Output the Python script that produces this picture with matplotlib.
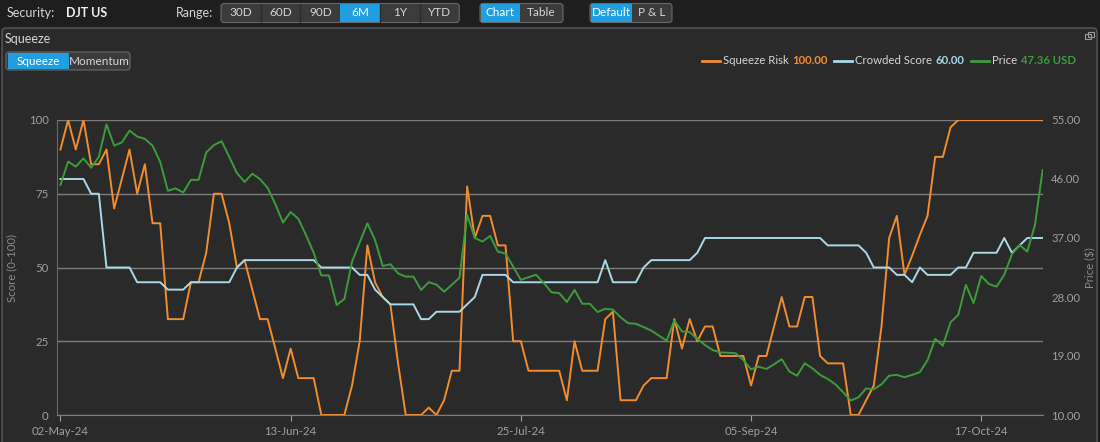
import matplotlib
matplotlib.use("Agg")
import matplotlib.pyplot as plt
from matplotlib.patches import FancyBboxPatch, Rectangle
from matplotlib.lines import Line2D
from matplotlib.transforms import Affine2D
import numpy as np
import pandas as pd

# ---------------- data ----------------
dates = pd.bdate_range("2024-05-02", periods=129)

squeeze_risk = [
    90, 100, 90, 100, 85, 85, 90, 70, 80, 90, 75, 85, 65, 65, 32.5, 32.5, 32.5, 45, 45, 55,
    75, 75, 65, 50, 52.5, 42.5, 32.5, 32.5, 22.5, 12.5, 22.5, 12.5, 12.5, 12.5, 0, 0, 0, 0, 10, 25,
    57.5, 45, 40, 37.5, 17.5, 0, 0, 0, 2.5, 0, 5, 15, 15, 77.5, 60, 67.5, 67.5, 57.5, 57.5, 25,
    25, 15, 15, 15, 15, 15, 5, 25, 15, 15, 15, 32.5, 35, 5, 5, 5, 10, 12.5, 12.5, 12.5,
    32.5, 22.5, 32.5, 25, 30, 30, 20, 20, 20, 20, 10, 20, 20, 30, 40, 30, 30, 40, 40, 20,
    17.5, 17.5, 17.5, 0, 0, 5, 10, 30, 60, 67.5, 47.5, 54, 61, 67.5, 87.5, 87.5, 97.5, 100, 100, 100,
    100, 100, 100, 100, 100, 100, 100, 100, 100,
]

crowded_score = [
    80, 80, 80, 80, 75, 75, 50, 50, 50, 50, 45, 45, 45, 45, 42.5, 42.5, 42.5, 45, 45, 45,
    45, 45, 45, 50, 52.5, 52.5, 52.5, 52.5, 52.5, 52.5, 52.5, 52.5, 52.5, 52.5, 50, 50, 50, 50, 50, 47.5,
    47.5, 42.5, 40, 37.5, 37.5, 37.5, 37.5, 32.5, 32.5, 35, 35, 35, 35, 37.5, 40, 47.5, 47.5, 47.5, 47.5, 45,
    45, 45, 45, 45, 45, 45, 45, 45, 45, 45, 45, 52.5, 45, 45, 45, 45, 50, 52.5, 52.5, 52.5,
    52.5, 52.5, 52.5, 55, 60, 60, 60, 60, 60, 60, 60, 60, 60, 60, 60, 60, 60, 60, 60, 60,
    57.5, 57.5, 57.5, 57.5, 57.5, 55, 50, 50, 50, 47.5, 47.5, 45, 50, 47.5, 47.5, 47.5, 47.5, 50, 50, 55,
    55, 55, 55, 60, 55, 57.5, 60, 60, 60,
]

price = [
    45.10, 48.66, 47.89, 49.15, 47.71, 49.38, 54.33, 51.09, 51.58, 53.38, 52.48, 52.12, 51.09, 48.61,
    44.20, 44.56, 43.93, 45.87, 45.87, 50.05, 51.18, 51.76, 49.38, 46.90, 45.55, 46.81, 46.00, 44.65,
    42.18, 39.34, 40.96, 39.93, 37.45, 34.75, 31.29, 31.29, 26.79, 27.69, 33.40, 36.33, 39.25, 36.69,
    32.73, 33.00, 31.60, 31.11, 31.11, 29.08, 30.25, 29.89, 28.81, 29.85, 30.93, 40.51, 37.00, 36.46,
    37.32, 34.93, 34.62, 32.64, 30.61, 31.02, 31.38, 30.12, 28.72, 28.59, 27.24, 29.08, 26.97, 26.97,
    25.71, 26.20, 26.07, 24.90, 24.00, 23.91, 23.41, 22.87, 22.11, 21.34, 24.40, 22.74, 22.65, 21.61,
    20.67, 19.90, 19.54, 19.50, 19.41, 18.37, 16.98, 17.38, 17.02, 17.74, 18.51, 16.62, 15.99, 17.88,
    17.11, 16.12, 15.49, 14.68, 13.47, 12.21, 12.70, 14.05, 13.92, 14.68, 15.99, 16.12, 15.76, 16.12,
    16.53, 18.37, 21.61, 20.58, 24.13, 25.26, 29.85, 27.06, 31.20, 29.98, 29.58, 31.38, 34.53, 35.92,
    34.93, 38.98, 47.36,
]

score_ticks = [0, 25, 50, 75, 100]
price_ticks = [10, 19, 28, 37, 46, 55]
range_buttons = ["30D", "60D", "90D", "6M", "1Y", "YTD"]
series_names = ["Squeeze Risk", "Crowded Score", "Price"]

# ---------------- style ----------------
BAR_BG = "#1e1e1e"
PANEL_BG = "#2a2a2a"
BORDER = "#5a5a5a"
BTN = "#3b3b3b"
SEL = "#1f9ee0"
TXT = "#d6d6d6"
TICK = "#a0a0a0"
GRID = "#7c7c7c"
ORANGE = "#f28d2f"
BLUE = "#a9d8e8"
GREEN = "#3c9c3c"

plt.rcParams["font.family"] = ["Lato", "DejaVu Sans"]

W, H = 1100, 442
fig = plt.figure(figsize=(W / 100, H / 100), dpi=100, facecolor=BAR_BG)
# pixel coords of the reference, y pointing down
pix = Affine2D().scale(1 / W, -1 / H).translate(0, 1) + fig.transFigure


def box(x, y, w, h, fc, ec=None, r=3, lw=0.8, z=1):
    fig.patches.append(FancyBboxPatch((x, y), w, h, boxstyle=f"round,pad=0,rounding_size={r}",
                                      transform=pix, fc=fc, ec=ec or fc, lw=lw, zorder=z))


def label(x, y, s, **kw):
    kw.setdefault("color", TXT)
    kw.setdefault("fontsize", 8.5)
    kw.setdefault("va", "center")
    return fig.text(x, y, s, transform=pix, **kw)


# panel (behind the axes)
box(2, 28, 1095, 430, PANEL_BG, BORDER, r=4, lw=1.0, z=-5)

# top toolbar
label(7, 13, "Security:", fontsize=9)
label(66, 13, "DJT US", fontsize=9, fontweight="bold", color="#f0f0f0")
label(176, 13, "Range:", fontsize=9)

bx0, bw = 221, 39.7
box(bx0, 3.5, bw * len(range_buttons), 19, BTN, "#6a6a6a")
for k, name in enumerate(range_buttons):
    if name == "6M":
        fig.patches.append(Rectangle((bx0 + k * bw, 4), bw, 18, transform=pix, fc=SEL, ec="none", zorder=1))
    elif k > 0:
        fig.lines.append(Line2D([bx0 + k * bw] * 2, [4, 22], transform=pix, color="#2c2c2c", lw=1))
    label(bx0 + k * bw + bw / 2, 13, name, ha="center", color="#ffffff" if name == "6M" else TXT)

box(480, 3.5, 83, 19, BTN, "#6a6a6a")
fig.patches.append(Rectangle((481, 4), 39, 18, transform=pix, fc=SEL, ec="none", zorder=1))
label(500, 13, "Chart", ha="center", color="#ffffff")
label(541.5, 13, "Table", ha="center")

box(590, 3.5, 82, 19, BTN, "#6a6a6a")
fig.patches.append(Rectangle((591, 4), 41, 18, transform=pix, fc=SEL, ec="none", zorder=1))
label(611, 13, "Default", ha="center", color="#ffffff")
label(652, 13, "P & L", ha="center")

# panel header
label(5, 39, "Squeeze", fontsize=9)
box(6, 52, 124, 18, BTN, "#6a6a6a")
fig.patches.append(Rectangle((7.5, 53), 61.5, 16, transform=pix, fc=SEL, ec="none", zorder=1))
label(38, 61.5, "Squeeze", ha="center", color="#ffffff")
label(99.5, 61.5, "Momentum", ha="center")

# restore icon
fig.patches.append(Rectangle((1085, 34), 6, 5, transform=pix, fc="none", ec="#9a9a9a", lw=0.8))
fig.patches.append(Rectangle((1087.5, 32), 6, 5, transform=pix, fc="none", ec="#9a9a9a", lw=0.8))

# legend, laid out left to right from measured text widths, then shifted so it ends near x=1076
renderer = fig.canvas.get_renderer()
leg = [
    (series_names[0], f"{squeeze_risk[-1]:.2f}", ORANGE),
    (series_names[1], f"{crowded_score[-1]:.2f}", BLUE),
    (series_names[2], f"{price[-1]:.2f} USD", GREEN),
]
leg_artists = []
lx = 0
for name, val, col in leg:
    ln = Line2D([lx, lx + 18], [61, 61], transform=pix, color=col, lw=2)
    fig.lines.append(ln)
    t = label(lx + 21, 61, name, fontsize=8.2)
    leg_artists.append(t)
    lx += 21 + t.get_window_extent(renderer).width + 4
    v = label(lx, 61, val, color=col, fontweight="bold", fontsize=8.2)
    leg_artists.append(v)
    lx += v.get_window_extent(renderer).width
    leg_artists.append(ln)
    lx += 6
shift = 1076 - (lx - 6)
for a in leg_artists:
    if isinstance(a, Line2D):
        a.set_xdata(np.asarray(a.get_xdata()) + shift)
    else:
        px, py = a.get_position()
        a.set_position((px + shift, py))

# ---------------- chart ----------------
ax = fig.add_axes([57 / W, 1 - 415 / H, (1043 - 57) / W, (415 - 120) / H])
ax.set_facecolor("none")
x = np.arange(len(dates))

ax.plot(x, squeeze_risk, color=ORANGE, lw=1.4, zorder=3)
ax.plot(x, crowded_score, color=BLUE, lw=1.4, zorder=3)

ax.set_xlim(-0.45, len(dates) - 0.95)
ax.set_ylim(0, 100)
ax.set_yticks(score_ticks)
ax.grid(axis="y", color=GRID, lw=1.0)
ax.grid(axis="x", visible=False)
ax.set_axisbelow(True)

tick_idx = list(range(0, len(dates), 30))
ax.set_xticks(tick_idx)
ax.set_xticklabels([dates[i].strftime("%d-%b-%y") for i in tick_idx])
ax.tick_params(axis="x", colors=TICK, labelsize=8.2, length=4, width=0.8, pad=4, labelcolor=TICK)
ax.tick_params(axis="y", length=0, labelsize=8.2, labelcolor=TICK, pad=6)

for side in ["top", "right"]:
    ax.spines[side].set_visible(False)
ax.spines["left"].set_color("#6a6a6a")
ax.spines["bottom"].set_color(GRID)
ax.spines["left"].set_linewidth(0.8)

ax.set_ylabel("Score (0-100)", color="#8c8c8c", fontsize=8.2)
ax.yaxis.set_label_coords(-0.04, 0.5)

ax2 = ax.twinx()
ax2.plot(x, price, color=GREEN, lw=1.4)
ax2.set_ylim(price_ticks[0], price_ticks[-1])
ax2.set_yticks(price_ticks)
ax2.set_yticklabels([f"{p:.2f}" for p in price_ticks])
ax2.tick_params(axis="y", length=0, labelsize=8.2, labelcolor=TICK, pad=6)
for side in ["top", "right", "left", "bottom"]:
    ax2.spines[side].set_visible(False)
ax2.set_ylabel("Price ($)", color="#8c8c8c", fontsize=8.2, rotation=90)
ax2.yaxis.set_label_coords(1.043, 0.5)

fig.savefig("out.png", dpi=100, facecolor=BAR_BG)
